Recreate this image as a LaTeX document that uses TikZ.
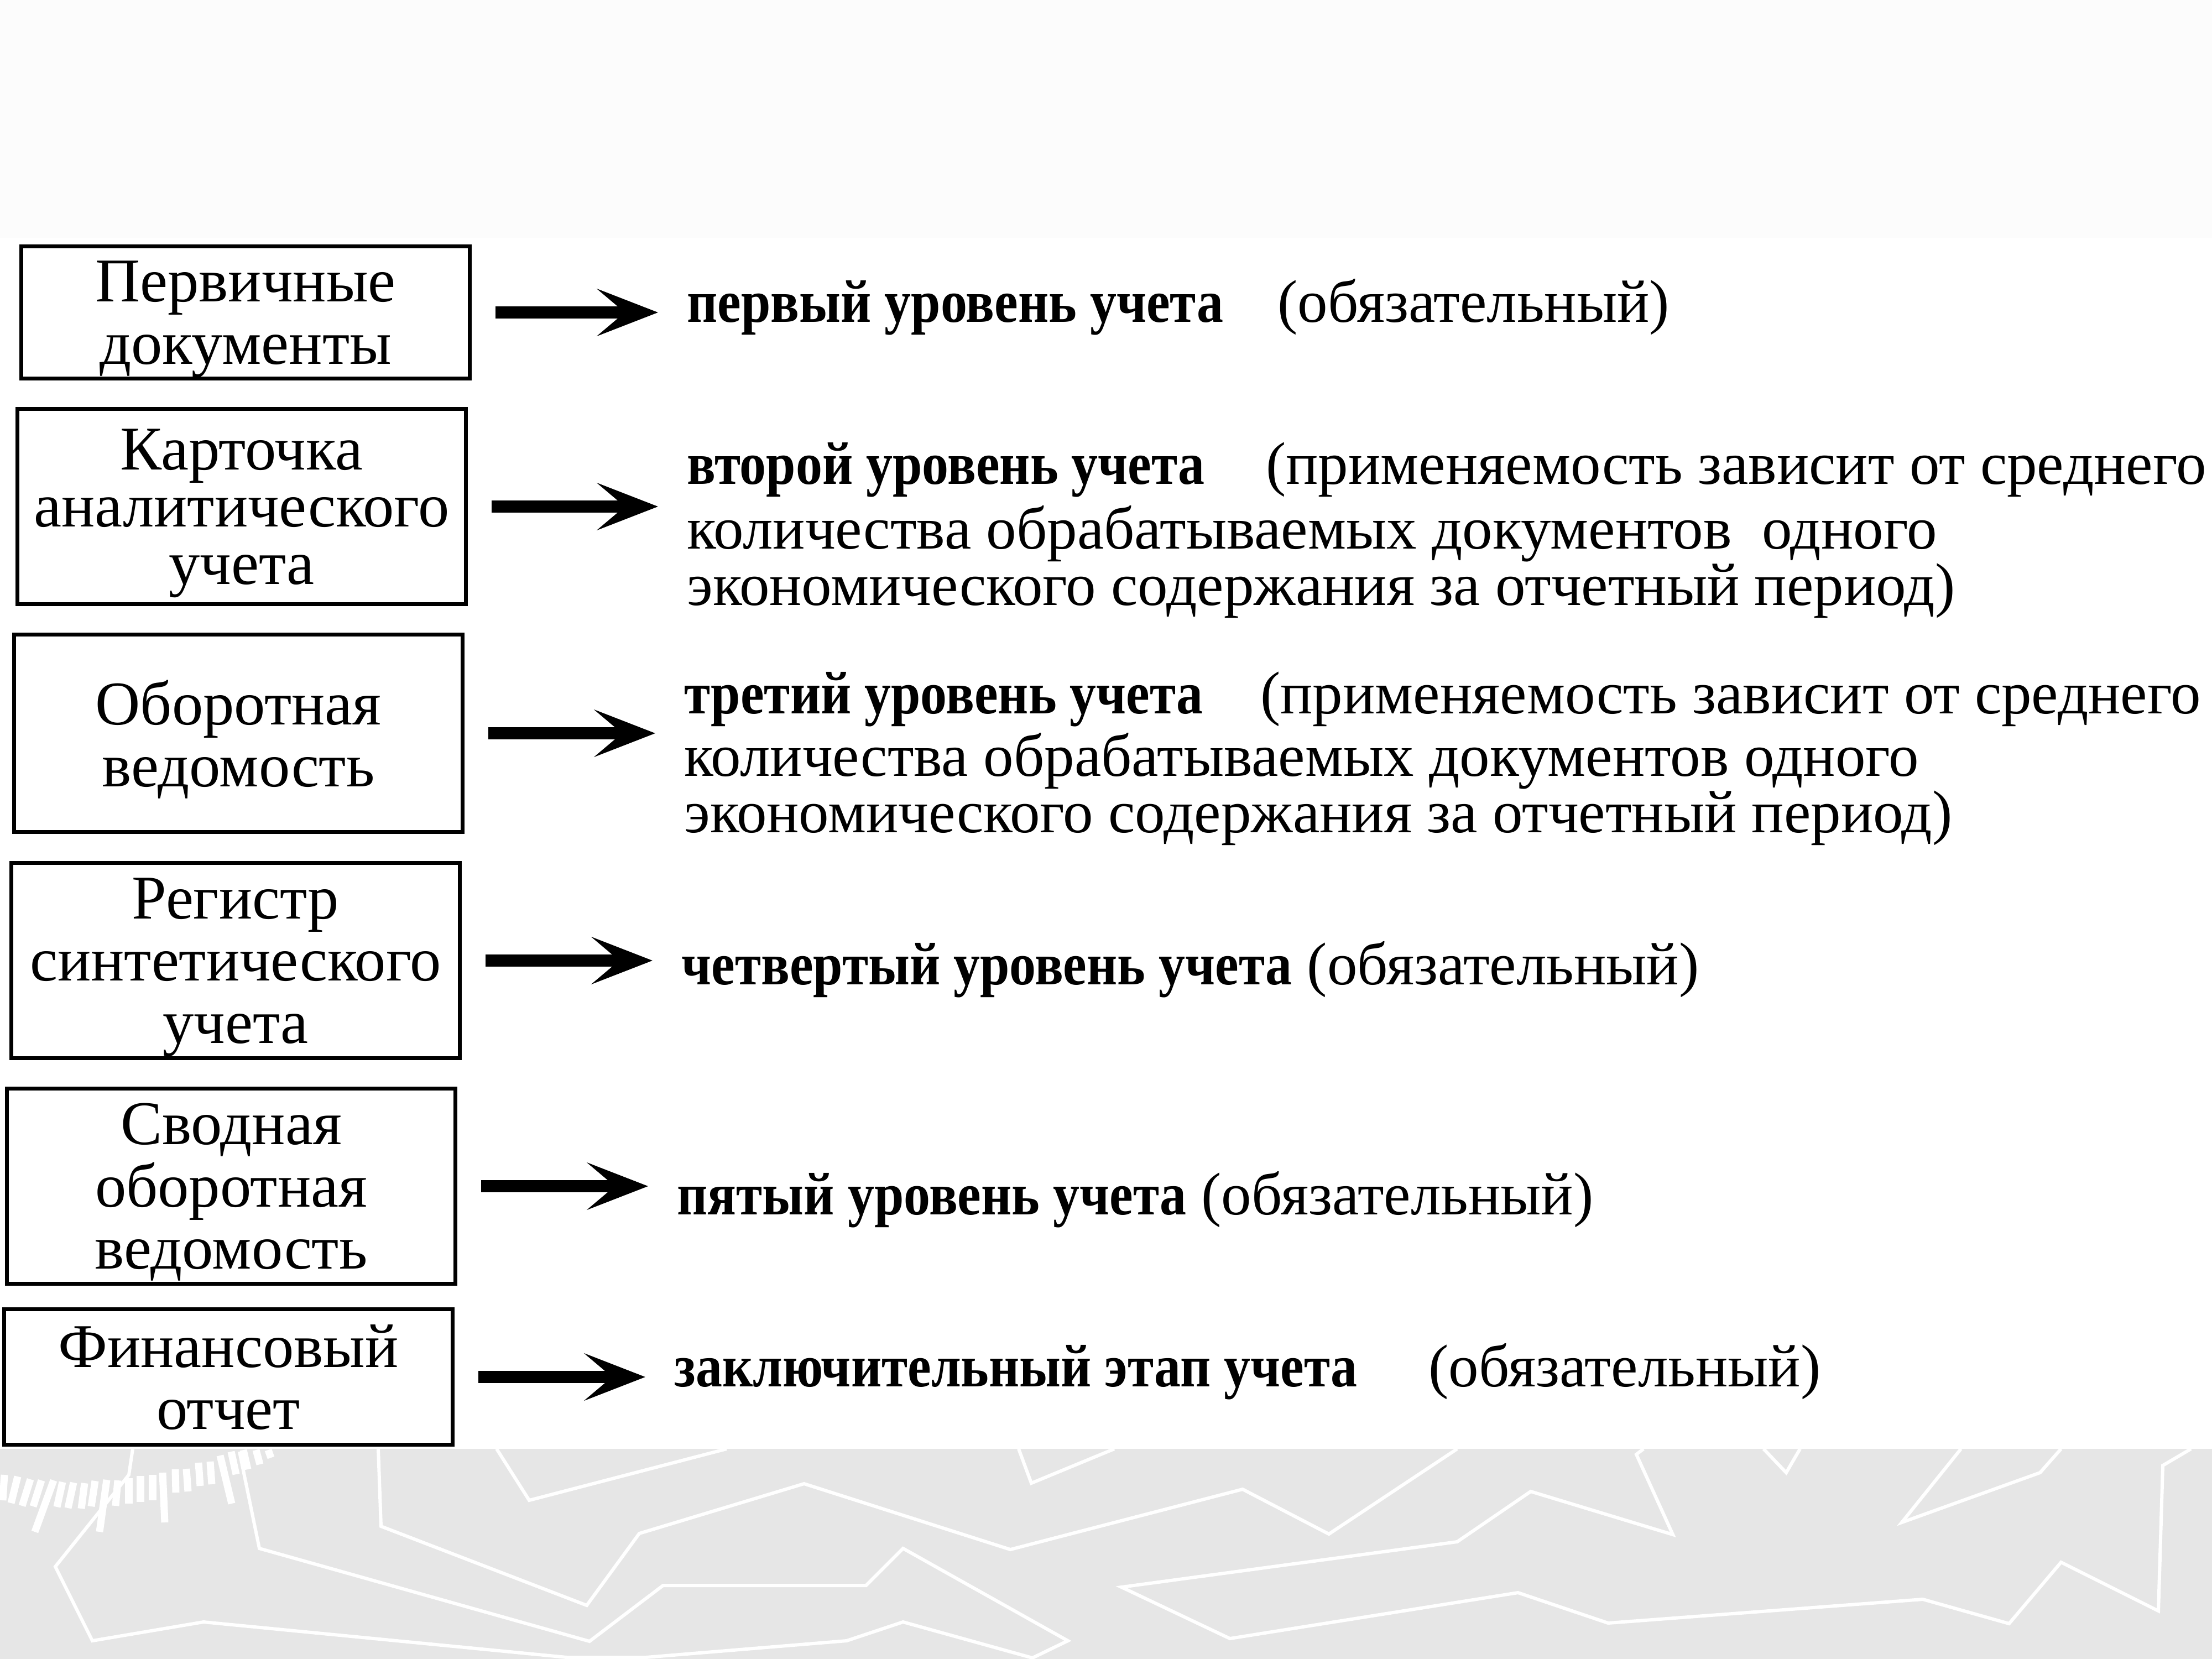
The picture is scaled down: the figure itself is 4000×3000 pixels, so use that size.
\documentclass[tikz,border=0pt]{standalone}
\usepackage{fontspec}
\usepackage{graphicx}
\setmainfont{Liberation Serif}
\usetikzlibrary{arrows.meta}
\definecolor{topbg}{RGB}{252,252,252}
\definecolor{botbg}{RGB}{230,230,230}
\newcommand\boldlab[1]{\scalebox{0.88}[1]{\bfseries #1}}
\begin{document}
\begin{tikzpicture}[x=0.01cm,y=-0.01cm,
  box/.style={draw, line width=2pt, inner sep=0pt, minimum width=8.11cm, align=center, text depth=0pt, font=\fontsize{32}{32}\selectfont},
  txt/.style={anchor=base west, inner sep=0pt, align=left, font=\fontsize{31}{29}\selectfont},
  arr/.style={line width=0.22cm, -{Stealth[length=1.1cm,width=0.85cm,inset=0.5cm]}, shorten <=0.43cm, shorten >=0.52cm},
  deco/.style={white, line width=0.06cm, line join=miter},
  hatch/.style={white, line width=0.13cm}
]
\useasboundingbox (0,0) rectangle (4000,3000);
\fill[topbg] (0,0) rectangle (4000,430);
\fill[white] (0,430) rectangle (4000,2620);
\fill[botbg] (0,2620) rectangle (4000,3000);

% background decoration
\foreach \a/\b/\c/\d in {8/2667/5/2713, 32/2670/20/2718, 55/2675/40/2723, 75/2677/60/2724,
  97/2677/63/2770, 113/2680/103/2725, 133/2681/123/2727, 153/2682/147/2728,
  172/2678/165/2724, 193/2676/180/2770, 213/2677/209/2723, 233/2673/233/2719,
  254/2669/254/2716, 276/2667/276/2713, 294/2663/298/2753, 317/2657/318/2699,
  337/2656/340/2697, 359/2645/362/2687, 380/2643/383/2684, 398/2632/419/2719,
  418/2625/427/2666, 440/2622/448/2657, 463/2622/470/2648, 485/2622/490/2636}
  \draw[hatch] (\a,\b) -- (\c,\d);
\draw[deco] (240,2620) -- (233,2667) -- (100,2833) -- (167,2967) -- (368,2933) -- (1025,2997) -- (1168,2997) -- (1531,2967) -- (1633,2933) -- (1867,2998) -- (1931,2967) -- (1633,2800) -- (1566,2867) -- (1199,2867) -- (1066,2968) -- (469,2800) -- (433,2625);
\draw[deco] (684,2620) -- (689,2760) -- (1061,2903) -- (1156,2773) -- (1454,2683) -- (1827,2802) -- (2247,2693) -- (2403,2774) -- (2635,2620);
\draw[deco] (898,2620) -- (957,2713) -- (1314,2620);
\draw[deco] (1842,2620) -- (1865,2682) -- (2015,2620);
\draw[deco] (2972,2620) -- (2959,2630) -- (3025,2775) -- (2768,2697) -- (2635,2788) -- (2028,2870) -- (2224,2963) -- (2745,2880) -- (2908,2935) -- (3477,2892) -- (3633,2936) -- (3727,2825) -- (3903,2913) -- (3911,2650) -- (3962,2620);
\draw[deco] (3189,2620) -- (3230,2663) -- (3255,2620);
\draw[deco] (3546,2620) -- (3439,2753) -- (3689,2663) -- (3727,2620);

% boxes
\node[box, minimum height=2.38cm] (b1) at (444,565) {Первичные\\документы};
\node[box, minimum height=3.52cm, font=\fontsize{32}{29.4}\selectfont] (b2) at (437,916) {Карточка\\аналитического\\учета};
\node[box, minimum height=3.57cm] (b3) at (431,1326) {Оборотная\\ведомость};
\node[box, minimum height=3.52cm] (b4) at (426,1737) {Регистр\\синтетического\\учета};
\node[box, minimum height=3.52cm] (b5) at (418,2145) {Сводная\\оборотная\\ведомость};
\node[box, minimum height=2.45cm] (b6) at (413,2490) {Финансовый\\отчет};

% texts (base anchor = baseline of the last line)
\node[txt] (t1) at (1242,582) {\makebox[10.67cm][l]{\boldlab{первый уровень учета}}(обязательный)};
\node[txt] (t2) at (1242,1094) {\makebox[10.46cm][l]{\boldlab{второй уровень учета}}(применяемость зависит от среднего\\[4pt]количества обрабатываемых документов\ \ одного\\экономического содержания за отчетный период)};
\node[txt] (t3) at (1237,1505) {\makebox[10.41cm][l]{\boldlab{третий уровень учета}}(применяемость зависит от среднего\\[3pt]количества обрабатываемых документов одного\\экономического содержания за отчетный период)};
\node[txt] (t4) at (1232,1780) {\boldlab{четвертый уровень учета} (обязательный)};
\node[txt] (t5) at (1224,2196) {\boldlab{пятый уровень учета} (обязательный)};
\node[txt] (t6) at (1219,2507) {\makebox[13.63cm][l]{\boldlab{заключительный этап учета}}(обязательный)};

% arrows
\draw[arr] (b1.east) -- (b1.east -| t1.west);
\draw[arr] (b2.east) -- (b2.east -| t2.west);
\draw[arr] (b3.east) -- (b3.east -| t3.west);
\draw[arr] (b4.east) -- (b4.east -| t4.west);
\draw[arr] (b5.east) -- (b5.east -| t5.west);
\draw[arr] (b6.east) -- (b6.east -| t6.west);
\end{tikzpicture}
\end{document}
